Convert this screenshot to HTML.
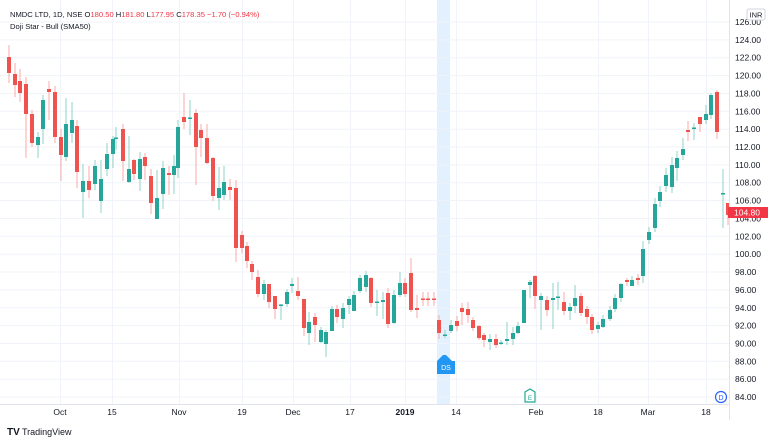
<!DOCTYPE html>
<html><head><meta charset="utf-8"><style>
html,body{margin:0;padding:0;background:#fff;width:768px;height:441px;overflow:hidden;font-family:"Liberation Sans",sans-serif}
svg{display:block}
</style></head><body>
<svg id="s" width="768" height="441" xmlns="http://www.w3.org/2000/svg" font-family="Liberation Sans, sans-serif">
<rect x="437" y="0" width="13" height="404" fill="#e3f0fd"/>
<g id="grid" stroke="#f0f3fa" stroke-width="1"></g>
<g id="c"></g>
<line x1="729.5" y1="0" x2="729.5" y2="420" stroke="#e0e3eb"/>
<line x1="0" y1="404.5" x2="729" y2="404.5" stroke="#e0e3eb"/>
<g id="yl" font-size="8.5" fill="#131722"></g>
<g id="xl" font-size="8.5" fill="#131722" text-anchor="middle"></g>
<text x="10" y="17" font-size="7.6" fill="#131722">NMDC LTD, 1D, NSE  O<tspan fill="#f23645">180.50</tspan>  H<tspan fill="#f23645">181.80</tspan>  L<tspan fill="#f23645">177.95</tspan>  C<tspan fill="#f23645">178.35</tspan>  <tspan fill="#f23645">−1.70 (−0.94%)</tspan></text>
<text x="10" y="29" font-size="7.6" fill="#131722">Doji Star - Bull (SMA50)</text>
<rect x="747" y="9" width="18" height="11" rx="2" fill="#fff" stroke="#d1d4dc"/>
<text x="756" y="17.5" font-size="7.5" fill="#131722" text-anchor="middle">INR</text>
<rect x="728" y="207" width="40" height="11" fill="#f23645"/>
<text x="734" y="215.5" font-size="8.5" fill="#fff">104.80</text>
<path d="M437 361 L443 355 L446 355 L452 361 L455 361 L455 374 L437 374 Z" fill="#2196f3"/>
<text x="446" y="370" font-size="7" fill="#fff" text-anchor="middle">DS</text>
<path d="M525 392 L530 389 L535 392 L535 402 L525 402 Z" fill="#fff" stroke="#22ab94" stroke-width="1.2"/>
<text x="530" y="400" font-size="6.5" fill="#22ab94" text-anchor="middle">E</text>
<circle cx="721" cy="397" r="5.5" fill="#fff" stroke="#2962ff" stroke-width="1.2"/>
<text x="721" y="400" font-size="7" fill="#2962ff" text-anchor="middle">D</text>
<text x="7" y="435" font-size="10" font-weight="bold" fill="#131722">TV</text>
<text x="22" y="435" font-size="9" fill="#131722">TradingView</text>
</svg>
<script>
var NS="http://www.w3.org/2000/svg";
function el(p,t,a,txt){var e=document.createElementNS(NS,t);for(var k in a)e.setAttribute(k,a[k]);if(txt!=null)e.textContent=txt;p.appendChild(e);return e;}
var g=document.getElementById('grid'),yl=document.getElementById('yl'),xl=document.getElementById('xl'),c=document.getElementById('c');
for(var p=84;p<=126;p+=2){var y=22+(126-p)*8.93;el(g,'line',{x1:0,x2:729,y1:y.toFixed(1),y2:y.toFixed(1)});el(yl,'text',{x:735,y:(y+3).toFixed(1)},p.toFixed(2));}
var xs=[[60,'Oct'],[112,'15'],[179,'Nov'],[242,'19'],[293,'Dec'],[350,'17'],[405,'2019'],[456,'14'],[536,'Feb'],[598,'18'],[648,'Mar'],[706,'18']];
xs.forEach(function(a){el(g,'line',{x1:a[0]+.5,x2:a[0]+.5,y1:0,y2:404});var t=el(xl,'text',{x:a[0],y:415},a[1]);if(a[1]=='2019')t.setAttribute('font-weight','bold');});
var d=[
[9,57,73,45,83],[15,74,85,63,97],[20,81,93,69,102],[26,84,114,77,158],[32,114,143,110,147],[38,145,137,132,158],[43,129,100,95,144],[49,89,92,81,120],[55,92,137,86,143],[61,137,155,129,181],[66,157,124,98,161],[72,133,120,102,143],[77,126,172,120,188],[83,192,181,164,218],[89,181,190,166,198],[95,184,166,160,190],[101,201,179,160,213],[107,169,154,143,176],[113,154,139,136,168],[116,138.5,137.5,127,150],[123,129,161,124,181],[129,182,169,136,183],[134,160,174,159,180],[140,179,159,152,191],[145,157,166,153,180],[151,176,203,169,214],[157,219,198,170,219],[163,194,168,161,209],[169,173,175,166,195],[174,175,166,155,194],[178,168,127,120,178],[184,117,122,93,129],[190,118.5,117.5,100,135],[196,113,147,109,185],[201,130,138,124,157],[207,138,163,124,164],[213,158,196,157,201],[219,198,188,167,210],[224,195,182,166,200],[230,187,190,179,200],[236,188,248,180,262],[242,235,248,231,253],[247,246,261,242,268],[252,264,272,261,280],[258,277,294,270,297],[264,294,284,280,300],[269,284,302,284,308],[275,296,309,296,319],[281,305.5,304.5,304,320],[287,304,292,289,307],[292,286,284,278,293],[298,291,296,277,300],[304,299,328,299,336],[309,333,322,312,345],[315,317,325,313,342],[321,342,330,327,343],[326,344,332,330,357],[332,331,309,306,331],[337,309,317,305,323],[343,319,308,303,328],[349,305,299,296,314],[354,311,295,291,311],[360,291,278,275,293],[366,287,275,271,292],[371,278,303,277,307],[377,302.5,301.5,290,316],[383,302,300,292,319],[388,293,324,288,328],[394,323,295,290,324],[400,295,283,272,297],[405,283,294,278,297],[411,273,310,258,312],[417,308,310,295,318],[423,298.5,299.5,292,306],[428,298.5,299.5,292,306],[434,298.5,299.5,292,306],[439,320,333,315,339],[445,335.5,334.5,330,338],[451,331,325,320,333],[457,321,326,316,331],[462,308,312,303,325],[468,309,315,302,323],[473,320,328,317,331],[479,326,338,325,340],[484,335,340,333,347],[490,342,339,334,350],[496,339,345,334,348],[501,343.5,342.5,340,345],[507,341,339,322,345],[513,339,333,327,345],[518,333,326,322,334],[524,323,290,290,323],[530,285,282,280,298],[535,276,296,275,309],[541,300,296,293,330],[547,300,310,296,316],[553,300,298,283,329],[558,297.5,296.5,282,310],[564,302,311,292,315],[570,311,307,303,320],[575,306,298,285,313],[581,296,313,293,316],[587,309,317,306,324],[592,317,330,314,334],[598,329,325,322,333],[603,327,319,315,328],[610,319,310,306,321],[615,309,298,294,312],[621,298,284,283,302],[627,280,282,278,286],[632,286,280,276,286],[638,278,280,274,285],[643,276,249,241,283],[649,240,232,227,244],[655,228,204,198,232],[660,201,192,186,207],[666,186,175,168,192],[672,187,165,157,193],[677,168,158,151,181],[683,155,149,138,160],[688,130,132,121,141],[694,128.5,127.5,123,140],[700,117,124,117,132],[706,120,114,105,124],[711,115,95,93,119],[717,92,132,90,139],[723,194.5,193,169,228],[728,203,215,203,225]];
d.forEach(function(k){var x=k[0],o=k[1],cl=k[2],up=cl<o;var col=up?'#26a69a':'#ef5350';var wc=up?'#8fd3ca':'#f7a9a7';
el(c,'line',{x1:x,x2:x,y1:k[3],y2:k[4],stroke:wc,'stroke-width':1});
var t=Math.min(o,cl),h=Math.max(Math.abs(o-cl),1.5);el(c,'rect',{x:x-2,y:t,width:4,height:h,fill:col});});
</script>
</body></html>
